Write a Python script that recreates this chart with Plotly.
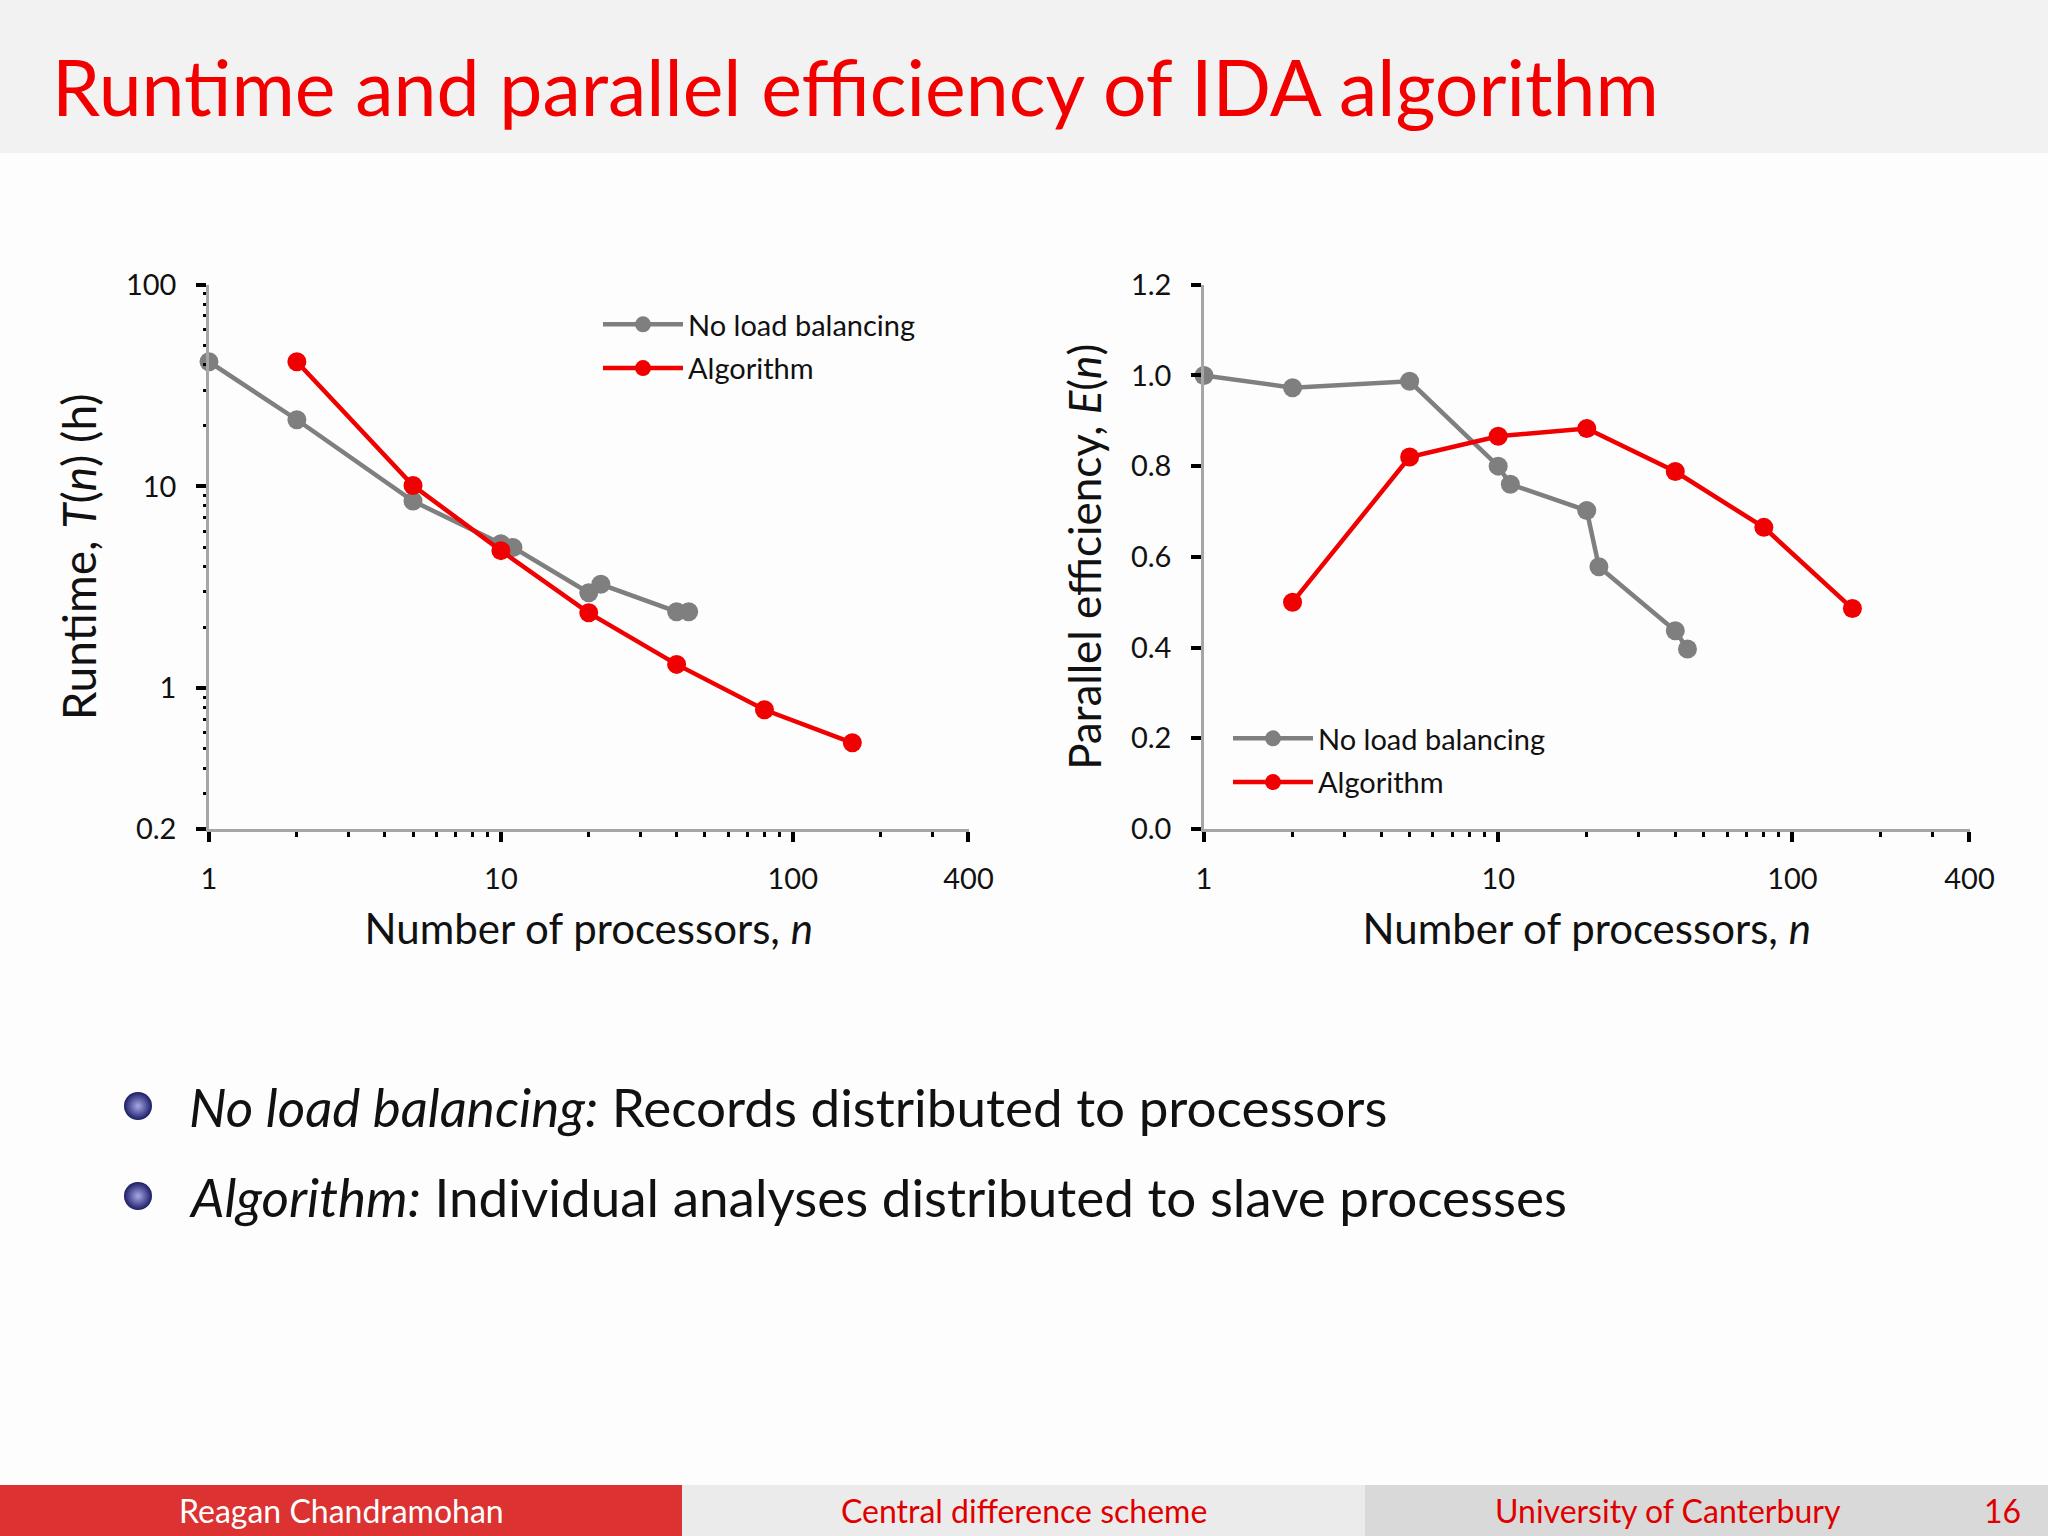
import plotly.graph_objects as go

# ---------------- data ----------------
n_noload = [1, 2, 5, 10, 11, 20, 22, 40, 44]
T_noload = [41.5, 21.4, 8.45, 5.2, 4.98, 2.97, 3.27, 2.39, 2.39]
E_noload = [1.0, 0.973, 0.987, 0.80, 0.760, 0.702, 0.578, 0.437, 0.397]

n_alg = [2, 5, 10, 20, 40, 80, 160]
T_alg = [41.5, 10.1, 4.8, 2.36, 1.31, 0.78, 0.535]
E_alg = [0.50, 0.82, 0.866, 0.883, 0.788, 0.665, 0.486]

x_tickvals = [1, 10, 100, 400]
x_ticktext = ["1", "10", "100", "400"]
x_minor = [2, 3, 4, 5, 6, 7, 8, 9, 20, 30, 40, 50, 60, 70, 80, 90, 200, 300]
yT_tickvals = [0.2, 1, 10, 100]
yT_ticktext = ["0.2", "1", "10", "100"]
yT_minor = [0.3, 0.4, 0.5, 0.6, 0.7, 0.8, 0.9, 2, 3, 4, 5, 6, 7, 8, 9,
            20, 30, 40, 50, 60, 70, 80, 90]
yE_tickvals = [0.0, 0.2, 0.4, 0.6, 0.8, 1.0, 1.2]

series_names = ["No load balancing", "Algorithm"]
GRAY = "#7f7f7f"
RED = "#f00000"

title_text = "Runtime and parallel efficiency of IDA algorithm"
bullets = [("No load balancing:", " Records distributed to processors"),
           ("Algorithm:", " Individual analyses distributed to slave processes")]
footer = ["Reagan Chandramohan", "Central difference scheme", "University of Canterbury", "16"]

W, H = 2048, 1536
FONT = "Lato"

fig = go.Figure()

def px(x):
    return x / W

def py(y):
    return 1 - y / H

mk = dict(size=19)
LW = 4.5
# left: runtime
fig.add_trace(go.Scatter(x=n_noload, y=T_noload, mode="lines+markers", name=series_names[0],
                         line=dict(color=GRAY, width=LW), marker=dict(color=GRAY, **mk),
                         cliponaxis=False, legend="legend", legendgroup="a", xaxis="x", yaxis="y"))
fig.add_trace(go.Scatter(x=n_alg, y=T_alg, mode="lines+markers", name=series_names[1],
                         line=dict(color=RED, width=LW), marker=dict(color=RED, **mk),
                         cliponaxis=False, legend="legend", legendgroup="b", xaxis="x", yaxis="y"))
# right: efficiency
fig.add_trace(go.Scatter(x=n_noload, y=E_noload, mode="lines+markers", name=series_names[0],
                         line=dict(color=GRAY, width=LW), marker=dict(color=GRAY, **mk),
                         cliponaxis=False, legend="legend2", legendgroup="c", xaxis="x2", yaxis="y2"))
fig.add_trace(go.Scatter(x=n_alg, y=E_alg, mode="lines+markers", name=series_names[1],
                         line=dict(color=RED, width=LW), marker=dict(color=RED, **mk),
                         cliponaxis=False, legend="legend2", legendgroup="d", xaxis="x2", yaxis="y2"))

# bullets (overlay pixel axis)
bullet_y = [1106, 1196]
fig.add_trace(go.Scatter(x=[138, 138], y=bullet_y, mode="markers", showlegend=False,
                         hoverinfo="skip", xaxis="x3", yaxis="y3",
                         marker=dict(size=28, color="#1c1c66",
                                     gradient=dict(type="radial", color="#a8a8e8"))))

axis_common = dict(showline=True, linecolor="#a6a6a6", linewidth=2.5, showgrid=False,
                   zeroline=False, ticks="outside", tickcolor="black", tickwidth=3.5,
                   ticklen=10, tickfont=dict(family=FONT, size=29, color="#111"),
                   automargin=False)

xa = dict(axis_common, type="log", range=[0, 2.6021], tickmode="array",
          tickvals=x_tickvals, ticktext=x_ticktext, ticklabelstandoff=12,
          minor=dict(tickmode="array", tickvals=x_minor, ticks="outside", ticklen=5,
                     tickwidth=2.5, tickcolor="black", showgrid=False),
          title=dict(text="Number of processors, <i>n</i>", standoff=22,
                     font=dict(family=FONT, size=42, color="#111")))

LEGFONT = dict(family=FONT, size=29, color="#111")
fig.update_layout(
    width=W, height=H, margin=dict(l=0, r=0, t=0, b=0, pad=0, autoexpand=False),
    paper_bgcolor="#fdfdfd", plot_bgcolor="rgba(0,0,0,0)",
    xaxis=dict(xa, domain=[px(209), px(968.5)], anchor="y"),
    yaxis=dict(axis_common, type="log", range=[-0.69897, 2], domain=[py(829), py(284.7)],
               anchor="x", tickmode="array", tickvals=yT_tickvals, ticktext=yT_ticktext,
               ticklabelstandoff=14,
               minor=dict(tickmode="array", tickvals=yT_minor, ticks="outside", ticklen=3,
                          tickwidth=3, tickcolor="black", showgrid=False),
               title=dict(text="Runtime, <i>T</i>(<i>n</i>) (h)", standoff=15,
                          font=dict(family=FONT, size=46, color="#111"))),
    xaxis2=dict(xa, domain=[px(1204), px(1969.5)], anchor="y2"),
    yaxis2=dict(axis_common, range=[0, 1.2], domain=[py(829), py(284.7)], anchor="x2",
                tickmode="array", tickvals=yE_tickvals, tickformat=".1f",
                ticklabelstandoff=14,
                title=dict(text="Parallel efficiency, <i>E</i>(<i>n</i>)", standoff=16,
                           font=dict(family=FONT, size=44, color="#111"))),
    xaxis3=dict(domain=[0, 1], range=[0, W], visible=False, anchor="y3", automargin=False),
    yaxis3=dict(domain=[0, 1], range=[H, 0], visible=False, anchor="x3", automargin=False),
    legend=dict(x=px(598), y=py(299), xanchor="left", yanchor="top",
                bgcolor="rgba(0,0,0,0)", font=LEGFONT, tracegroupgap=3, itemwidth=80),
    legend2=dict(x=px(1228), y=py(713), xanchor="left", yanchor="top",
                 bgcolor="rgba(0,0,0,0)", font=LEGFONT, tracegroupgap=3, itemwidth=80),
    showlegend=True,
)

shapes = [
    dict(type="rect", xref="paper", yref="paper", x0=0, x1=1, y0=py(153), y1=1,
         fillcolor="#f2f2f2", line_width=0, layer="below"),
    dict(type="rect", xref="paper", yref="paper", x0=0, x1=px(682), y0=0, y1=py(1485),
         fillcolor="#dc3232", line_width=0, layer="below"),
    dict(type="rect", xref="paper", yref="paper", x0=px(682), x1=px(1365), y0=0, y1=py(1485),
         fillcolor="#ebebeb", line_width=0, layer="below"),
    dict(type="rect", xref="paper", yref="paper", x0=px(1365), x1=1, y0=0, y1=py(1485),
         fillcolor="#d9d9d9", line_width=0, layer="below"),
]
fig.update_layout(shapes=shapes)

ann = [
    dict(text=title_text, x=px(50), y=py(86), xanchor="left", yanchor="middle",
         font=dict(family=FONT, size=77, color="#f20000")),
]
for (it, rest), yb in zip(bullets, bullet_y):
    ann.append(dict(text=f"<i>{it}</i>{rest}", x=px(187), y=py(yb), xanchor="left",
                    yanchor="middle", font=dict(family=FONT, size=53, color="#111")))
ann += [
    dict(text=footer[0], x=px(341), y=py(1510), xanchor="center", yanchor="middle",
         font=dict(family=FONT, size=32, color="white")),
    dict(text=footer[1], x=px(1024), y=py(1510), xanchor="center", yanchor="middle",
         font=dict(family=FONT, size=32, color="#e00000")),
    dict(text=footer[2], x=px(1668), y=py(1510), xanchor="center", yanchor="middle",
         font=dict(family=FONT, size=32, color="#e00000")),
    dict(text=footer[3], x=px(2002), y=py(1510), xanchor="center", yanchor="middle",
         font=dict(family=FONT, size=32, color="#e00000")),
]
for a in ann:
    a.update(xref="paper", yref="paper", showarrow=False)
fig.update_layout(annotations=ann)

fig.write_html("out.html",
               post_script="document.body.style.margin='0px';"
                           "document.documentElement.style.overflow='hidden';"
                           "document.body.style.overflow='hidden';")
